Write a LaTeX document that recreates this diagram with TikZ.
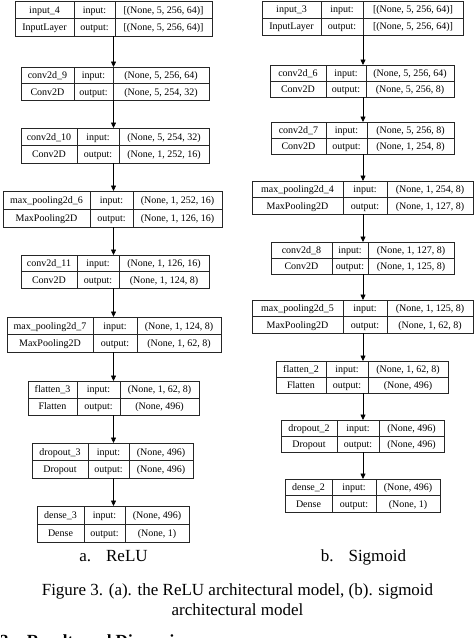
\documentclass[tikz,border=0pt]{standalone}
\usepackage{fontspec}
\setmainfont{Liberation Serif}
\usetikzlibrary{arrows.meta}
\tikzset{
  cell/.style={font=\fontsize{10}{12}\selectfont, inner sep=0pt, anchor=base},
  lbox/.style={draw=black!85, line width=0.75pt, inner sep=0pt, outer sep=0pt, anchor=north west},
  sepline/.style={draw=black!85, line width=0.75pt},
  arr/.style={draw=black, line width=0.75pt, -{Triangle[length=5.5pt,width=5pt]}},
  capt/.style={font=\fontsize{17}{20}\selectfont, inner sep=0pt, anchor=base},
  headg/.style={font=\fontsize{17}{20}\selectfont\bfseries, inner sep=0pt, anchor=base west},
}
\newcommand\layer[7]{\def\Lname{#1}\def\Lxa{#2}\def\Lxb{#3}\def\Lyt{#4}\def\Lyb{#5}\def\Lda{#6}\def\Ldb{#7}\layerB}
\newcommand\layerB[4]{%
  \pgfmathsetmacro\Lw{\Lxb-\Lxa}%
  \pgfmathsetmacro\Lh{\Lyb-\Lyt}%
  \pgfmathsetmacro\Lym{(\Lyt+\Lyb)/2}%
  \pgfmathsetmacro\Lyu{(\Lyt+\Lym)/2+3.4}%
  \pgfmathsetmacro\Lyl{(\Lym+\Lyb)/2+3.4}%
  \pgfmathsetmacro\Lca{(\Lxa+\Lda)/2}%
  \pgfmathsetmacro\Lcb{(\Lda+\Ldb)/2}%
  \pgfmathsetmacro\Lcc{(\Ldb+\Lxb)/2}%
  \node[lbox, minimum width=\Lw pt, minimum height=\Lh pt] (\Lname) at (\Lxa,\Lyt) {};
  \draw[sepline] (\Lxa,\Lym) -- (\Lxb,\Lym) (\Lda,\Lyt) -- (\Lda,\Lyb) (\Ldb,\Lyt) -- (\Ldb,\Lyb);
  \node[cell] (\Lname-name) at (\Lca,\Lyu) {#1};
  \node[cell] (\Lname-type) at (\Lca,\Lyl) {#2};
  \node[cell] (\Lname-il) at (\Lcb,\Lyu) {input:};
  \node[cell] (\Lname-ol) at (\Lcb,\Lyl) {output:};
  \node[cell] (\Lname-in) at (\Lcc,\Lyu) {#3};
  \node[cell] (\Lname-out) at (\Lcc,\Lyl) {#4};
}
\begin{document}
\begin{tikzpicture}[x=1pt,y=-1pt]
\useasboundingbox (0,0) rectangle (474,638);
\clip (0,0) rectangle (474,638);
\fill[white] (0,0) rectangle (474,638);
\coordinate (axL) at (113.5,0);
\coordinate (axR) at (363,0);
% ReLU model
\layer{L1}{15}{212}{1}{36}{74}{115}{input\_4}{InputLayer}{[(None, 5, 256, 64)]}{[(None, 5, 256, 64)]}
\layer{L2}{21}{209}{67}{100}{74}{113}{conv2d\_9}{Conv2D}{(None, 5, 256, 64)}{(None, 5, 254, 32)}
\layer{L3}{21}{209}{128}{163}{77}{119}{conv2d\_10}{Conv2D}{(None, 5, 254, 32)}{(None, 1, 252, 16)}
\layer{L4}{3}{222}{191}{227}{90}{133}{max\_pooling2d\_6}{MaxPooling2D}{(None, 1, 252, 16)}{(None, 1, 126, 16)}
\layer{L5}{21}{209}{255}{288}{77}{119}{conv2d\_11}{Conv2D}{(None, 1, 126, 16)}{(None, 1, 124, 8)}
\layer{L6}{7}{221}{317}{352}{93}{137}{max\_pooling2d\_7}{MaxPooling2D}{(None, 1, 124, 8)}{(None, 1, 62, 8)}
\layer{L7}{28}{199}{381}{415}{77}{120}{flatten\_3}{Flatten}{(None, 1, 62, 8)}{(None, 496)}
\layer{L8}{32}{193}{443}{478}{88}{129}{dropout\_3}{Dropout}{(None, 496)}{(None, 496)}
\layer{L9}{37}{189}{506}{542}{84}{125}{dense\_3}{Dense}{(None, 496)}{(None, 1)}
% Sigmoid model
\layer{R1}{262}{463}{1}{35}{321}{363}{input\_3}{InputLayer}{[(None, 5, 256, 64)]}{[(None, 5, 256, 64)]}
\layer{R2}{270}{454}{65}{97}{326}{366}{conv2d\_6}{Conv2D}{(None, 5, 256, 64)}{(None, 5, 256, 8)}
\layer{R3}{271}{454}{122}{154}{326}{367}{conv2d\_7}{Conv2D}{(None, 5, 256, 8)}{(None, 1, 254, 8)}
\layer{R4}{252}{473}{181}{214}{343}{387}{max\_pooling2d\_4}{MaxPooling2D}{(None, 1, 254, 8)}{(None, 1, 127, 8)}
\layer{R5}{271}{454}{242}{274}{332}{368}{conv2d\_8}{Conv2D}{(None, 1, 127, 8)}{(None, 1, 125, 8)}
\layer{R6}{252}{473}{300}{333}{343}{387}{max\_pooling2d\_5}{MaxPooling2D}{(None, 1, 125, 8)}{(None, 1, 62, 8)}
\layer{R7}{276}{448}{361}{393}{326}{368}{flatten\_2}{Flatten}{(None, 1, 62, 8)}{(None, 496)}
\layer{R8}{281}{444}{420}{452}{337}{379}{dropout\_2}{Dropout}{(None, 496)}{(None, 496)}
\layer{R9}{285}{440}{479}{512}{332}{376}{dense\_2}{Dense}{(None, 496)}{(None, 1)}
% connectors
\foreach \a/\b in {L1/L2,L2/L3,L3/L4,L4/L5,L5/L6,L6/L7,L7/L8,L8/L9}
  \draw[arr] (\a.south -| axL) -- (\b.north -| axL);
\foreach \a/\b in {R1/R2,R2/R3,R3/R4,R4/R5,R5/R6,R6/R7,R7/R8,R8/R9}
  \draw[arr] (\a.south -| axR) -- (\b.north -| axR);
% captions
\node[capt] (capa) at (113.5,561) {a.\hspace{15pt}ReLU};
\node[capt] (capb) at (363.5,561) {b.\hspace{15pt}Sigmoid};
\node[capt] (fig1) at (237.5,595) {Figure 3. (a). the ReLU architectural model, (b). sigmoid};
\node[capt] (fig2) at (237.5,615) {architectural model};
\node[headg] (sec) at (0,646) {3.\hspace{14pt}Results and Discussion};
\end{tikzpicture}
\end{document}
